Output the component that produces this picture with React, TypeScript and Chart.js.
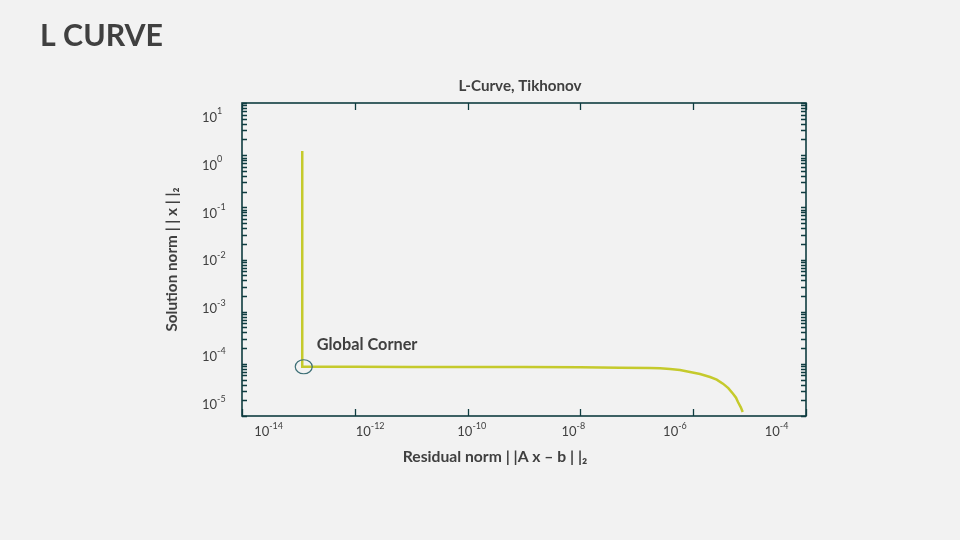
import React, { useEffect, useRef } from "react";
import { Chart, registerables } from "chart.js";

Chart.register(...registerables);

// ---- data ----
const residualNorm: number[] = [
  1.17e-13, 1.17e-13, 1.17e-13, 1.17e-13, 1.17e-13, 1.17e-13, 1.17e-13,
  1.25e-13, 1e-12, 1e-11, 1e-10, 1e-9, 1e-8, 5e-8,
  1.71e-7, 2.58e-7, 3.88e-7, 5.83e-7, 8.77e-7, 1.32e-6, 1.99e-6, 2.61e-6,
  3.37e-6, 4.19e-6, 5.08e-6, 5.74e-6, 6.22e-6, 6.95e-6, 7.55e-6,
];
const solutionNorm: number[] = [
  1.2, 0.3, 3e-2, 3e-3, 3e-4, 1.3e-4, 8.8e-5,
  8.78e-5, 8.76e-5, 8.74e-5, 8.71e-5, 8.66e-5, 8.58e-5, 8.45e-5,
  8.3e-5, 8.2e-5, 7.98e-5, 7.6e-5, 6.97e-5, 6.37e-5, 5.58e-5, 4.98e-5,
  4.17e-5, 3.43e-5, 2.68e-5, 2.24e-5, 1.85e-5, 1.48e-5, 1.19e-5,
];
const cornerIndex = 6;
const cornerLabel = "Global Corner";

const xTickExps: number[] = [-14, -12, -10, -8, -6, -4];
const yTickExps: number[] = [1, 0, -1, -2, -3, -4, -5];
const yMinorMultipliers: number[] = [2, 3, 4, 5, 6, 7, 8, 9];

const pageTitle = "L CURVE";
const chartTitle = "L-Curve, Tikhonov";
const xTitle = "Residual norm | |A x \u2013 b | |\u2082";
const yTitle = "Solution norm | | x | |\u2082";

const FONT = "Lato, 'Open Sans', 'DejaVu Sans', sans-serif";
const TEXT = "#404040";
const FRAME = "#0f3c40";

function drawPower(ctx: CanvasRenderingContext2D, exp: number, x: number, y: number, align: "center" | "left") {
  ctx.save();
  ctx.fillStyle = TEXT;
  ctx.textBaseline = "middle";
  ctx.textAlign = "left";
  ctx.font = `13px ${FONT}`;
  const base = "10";
  const bw = ctx.measureText(base).width;
  ctx.font = `9px ${FONT}`;
  const sup = String(exp);
  const sw = ctx.measureText(sup).width;
  const total = bw + sw;
  const x0 = align === "center" ? x - total / 2 : x;
  ctx.font = `13px ${FONT}`;
  ctx.fillText(base, x0, y);
  ctx.font = `9px ${FONT}`;
  ctx.fillText(sup, x0 + bw, y - 6);
  ctx.restore();
}

const decorPlugin = {
  id: "decor",
  afterDraw(chart: any) {
    const { ctx, chartArea: a, scales } = chart;
    const xs = scales.x;
    const ys = scales.y;
    const xl = scales.xl;
    const yl = scales.yl;
    ctx.save();
    // frame
    ctx.strokeStyle = FRAME;
    ctx.lineWidth = 1.6;
    ctx.strokeRect(a.left, a.top, a.right - a.left, a.bottom - a.top);
    // x ticks (top & bottom, inward)
    ctx.lineWidth = 1.3;
    ctx.beginPath();
    for (const e of xTickExps) {
      const px = Math.round(xs.getPixelForValue(Math.pow(10, e))) + 0.5;
      ctx.moveTo(px, a.bottom);
      ctx.lineTo(px, a.bottom - 7);
      ctx.moveTo(px, a.top);
      ctx.lineTo(px, a.top + 7);
    }
    // y ticks (left & right, inward, with minor ticks)
    for (const e of yTickExps) {
      const vals = [Math.pow(10, e)];
      if (e > yTickExps[yTickExps.length - 1] - 1) {
        for (const m of yMinorMultipliers) vals.push(m * Math.pow(10, e - 1));
      }
      for (const v of vals) {
        if (v < ys.min || v > ys.max) continue;
        const py = Math.round(ys.getPixelForValue(v)) + 0.5;
        ctx.moveTo(a.left, py);
        ctx.lineTo(a.left + 5, py);
        ctx.moveTo(a.right, py);
        ctx.lineTo(a.right - 5, py);
      }
    }
    ctx.stroke();

    // tick labels
    for (const e of xTickExps) {
      drawPower(ctx, e, xl.getPixelForValue(Math.pow(10, e)), a.bottom + 16, "center");
    }
    for (const e of yTickExps) {
      drawPower(ctx, e, a.left - 40, yl.getPixelForValue(Math.pow(10, e)), "left");
    }

    // corner marker
    const cx = xs.getPixelForValue(residualNorm[cornerIndex]) + 1.5;
    const cy = ys.getPixelForValue(solutionNorm[cornerIndex]);
    ctx.strokeStyle = "#3d6f76";
    ctx.lineWidth = 1.2;
    ctx.beginPath();
    ctx.ellipse(cx, cy, 8.5, 7, 0, 0, Math.PI * 2);
    ctx.stroke();

    ctx.fillStyle = TEXT;
    ctx.textBaseline = "alphabetic";
    ctx.textAlign = "left";
    ctx.font = `bold 16.3px ${FONT}`;
    ctx.fillText(cornerLabel, cx + 13, cy - 17);

    // titles
    ctx.textAlign = "center";
    ctx.font = `bold 15.2px ${FONT}`;
    ctx.fillText(chartTitle, (a.left + a.right) / 2 - 4, 91);
    ctx.font = `bold 15.7px ${FONT}`;
    ctx.fillText(xTitle, (a.left + a.right) / 2 - 29, 462);
    ctx.save();
    ctx.translate(177, (a.top + a.bottom) / 2);
    ctx.rotate(-Math.PI / 2);
    ctx.font = `bold 15.3px ${FONT}`;
    ctx.fillText(yTitle, 0, 0);
    ctx.restore();

    ctx.textAlign = "left";
    ctx.font = `bold 30.3px ${FONT}`;
    ctx.fillText(pageTitle, 40, 46);
    ctx.restore();
  },
};

export default function App() {
  const ref = useRef<HTMLCanvasElement | null>(null);
  useEffect(() => {
    if (!ref.current) return;
    const chart = new Chart(ref.current, {
      type: "line",
      data: {
        datasets: [
          {
            data: residualNorm.map((x, i) => ({ x, y: solutionNorm[i] })),
            borderColor: "#c5ca2c",
            borderWidth: 2.5,
            pointRadius: 0,
            tension: 0,
            fill: false,
          },
        ],
      },
      options: {
        animation: false,
        responsive: false,
        devicePixelRatio: 1,
        layout: { padding: { left: 242, top: 103, right: 154, bottom: 124 } },
        plugins: { legend: { display: false }, tooltip: { enabled: false }, title: { display: false } },
        scales: {
          x: { type: "logarithmic", min: 1e-14, max: 1e-4, display: false },
          y: { type: "logarithmic", min: 1e-5, max: 10, display: false },
          xl: { type: "logarithmic", axis: "x", position: "bottom", min: Math.pow(10, -14.52), max: Math.pow(10, -3.42), display: false },
          yl: { type: "logarithmic", axis: "y", position: "left", min: Math.pow(10, -5.23), max: Math.pow(10, 1.303), display: false },
        },
      },
      plugins: [decorPlugin],
    } as any);
    return () => chart.destroy();
  }, []);
  return (
    <div style={{ position: "fixed", left: 0, top: 0, width: 960, height: 540, background: "#f2f2f2" }}>
      <canvas ref={ref} width={960} height={540} style={{ width: 960, height: 540, display: "block" }} />
    </div>
  );
}
